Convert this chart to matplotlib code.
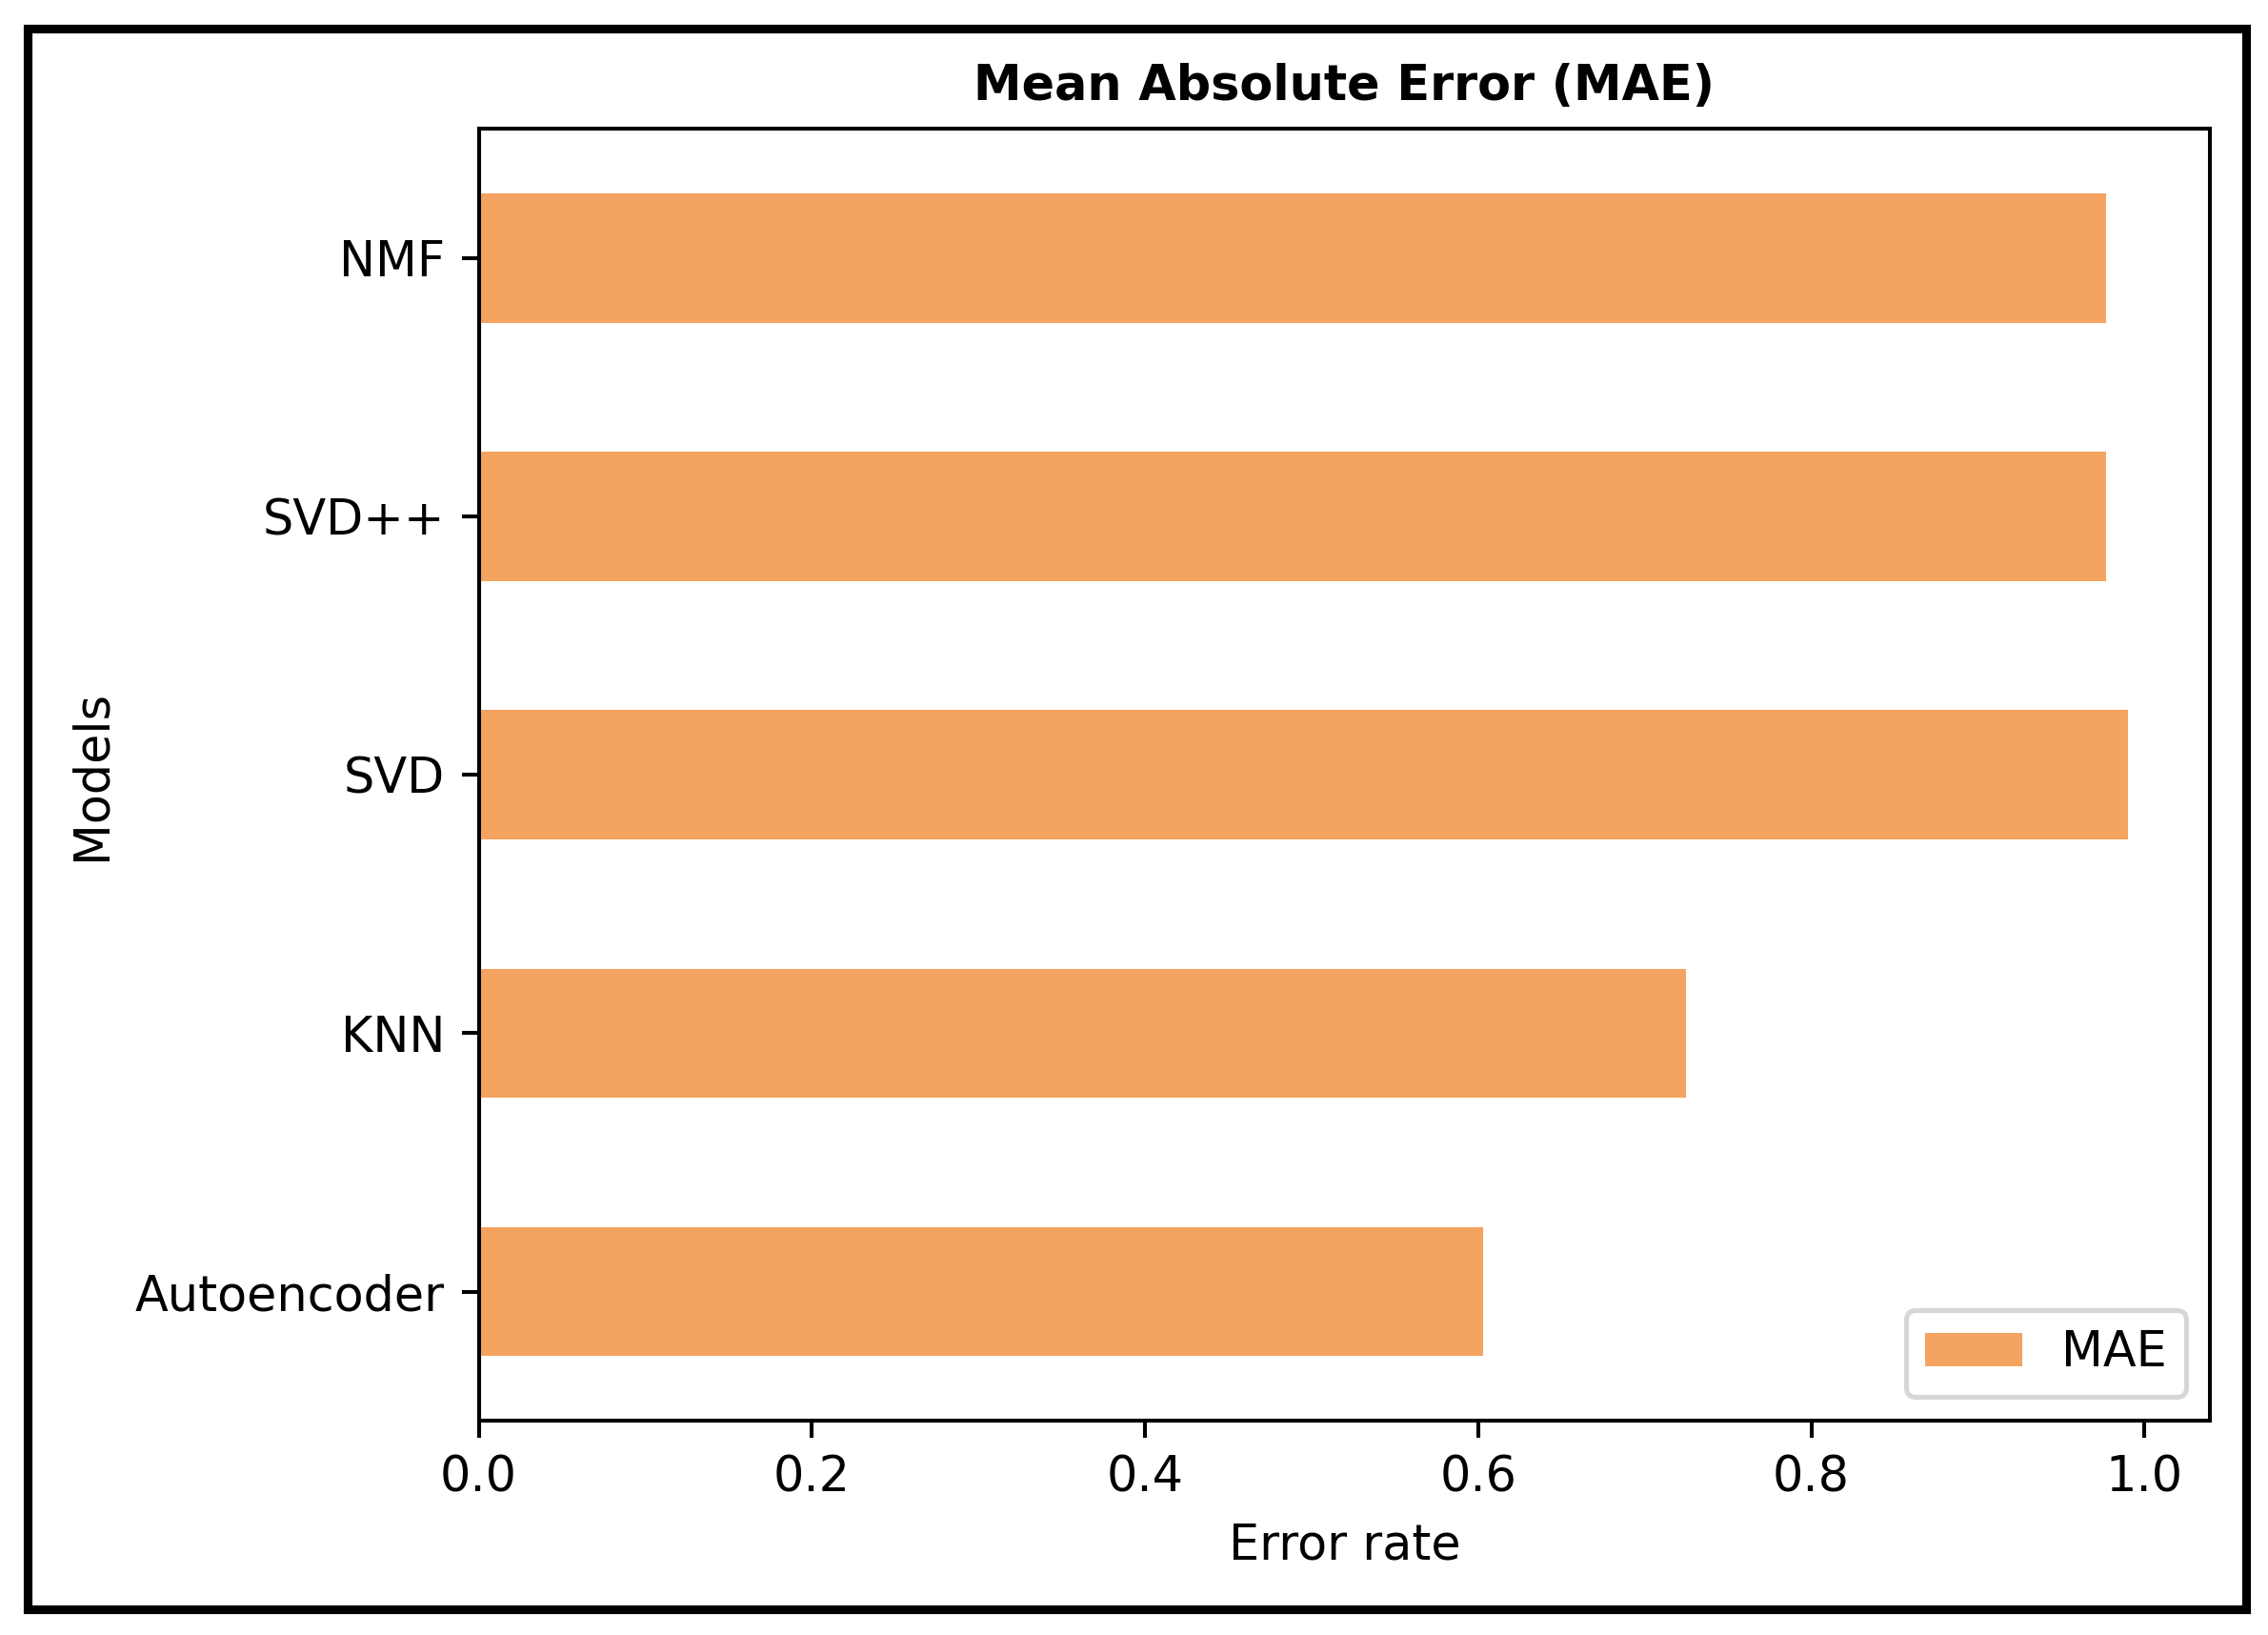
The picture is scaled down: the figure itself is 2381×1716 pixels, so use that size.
import matplotlib
matplotlib.use("Agg")
import matplotlib.pyplot as plt
from matplotlib.patches import Rectangle

# model names and MAE values (bottom to top)
models = ["Autoencoder", "KNN", "SVD", "SVD++", "NMF"]
mae = [0.603, 0.725, 0.990, 0.977, 0.977]

W, H = 2381, 1716
dpi = 366
fig = plt.figure(figsize=(W / dpi, H / dpi), dpi=dpi)

# axes placed where the reference has them
ax = fig.add_axes([502.6 / W, 1 - 1491.2 / H, (2320.3 - 502.6) / W, (1491.2 - 135.1) / H])

pos = list(range(len(models)))
ax.barh(pos, mae, height=0.5, color="sandybrown", label="MAE")
ax.set_yticks(pos)
ax.set_yticklabels(models)
ax.set_ylim(-0.5, len(models) - 0.5)

ax.set_title("Mean Absolute Error (MAE)", fontweight="bold", fontsize=10)
ax.set_xlabel("Error rate")
ax.set_ylabel("Models")
ax.legend(loc="lower right")

# thick black frame round the whole picture
frame = Rectangle((29 / W, 1 - 1689 / H), (2358 - 29) / W, (1689 - 30) / H,
                  transform=fig.transFigure, fill=False, edgecolor="black",
                  linewidth=1.8, zorder=10)
fig.patches.append(frame)

fig.savefig("out.png", dpi=dpi)
